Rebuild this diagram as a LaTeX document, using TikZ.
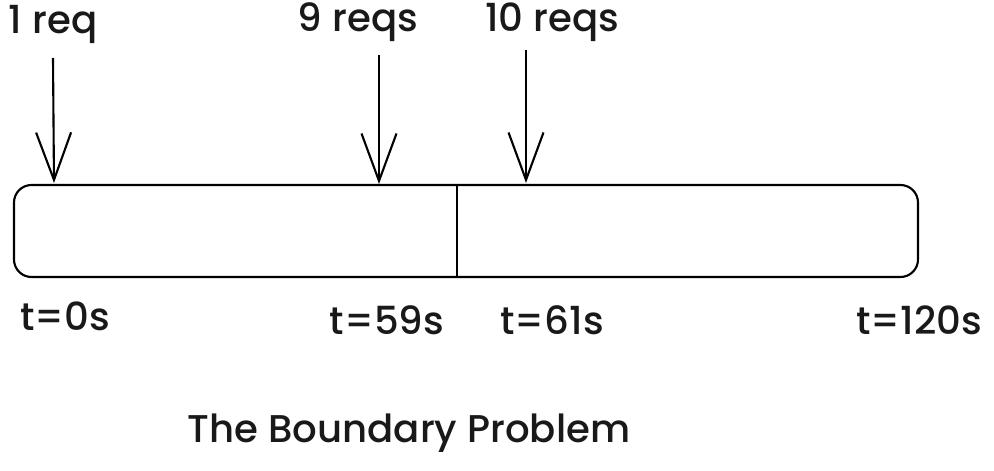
\documentclass[tikz,border=0pt]{standalone}
\usepackage{fontspec}
\setmainfont{Poppins}[UprightFont=* Medium]
\usetikzlibrary{arrows.meta}
\begin{document}
\begin{tikzpicture}[x=0.02cm,y=-0.02cm,
  lbl/.style={inner sep=0pt,font=\fontsize{22}{26}\selectfont,text=black!90},
  req/.style={line width=1.2pt,-{Straight Barb[length=0.95cm,width=0.7cm,line width=1.2pt]}},
  bar/.style={line width=1.2pt,rounded corners=0.35cm}]
\useasboundingbox (0,0) rectangle (994,470);
\draw[bar] (14,185) rectangle (918,277);
\coordinate (dtop) at (457,185);
\coordinate (dbot) at (457,278);
\draw[line width=1.2pt] (dtop) -- (dbot);
\node[lbl] (r1) at (53,24) {1 req};
\node[lbl] (r9) at (358,22) {9 reqs};
\node[lbl] (r10) at (552,22) {10 reqs};
\coordinate (a1s) at (53,58);
\coordinate (a1e) at (54,183);
\coordinate (a9s) at (379,55);
\coordinate (a9e) at (379,184);
\coordinate (a10s) at (526,50);
\coordinate (a10e) at (526,183);
\draw[req] (a1s) -- (a1e);
\draw[req] (a9s) -- (a9e);
\draw[req] (a10s) -- (a10e);
\node[lbl] (t0) at (65,316) {t=0s};
\node[lbl] (t59) at (387,320) {t=59s};
\node[lbl] (t61) at (552,320) {t=61s};
\node[lbl] (t120) at (919,320) {t=120s};
\node[lbl] (title) at (409,433) {The Boundary Problem};
\end{tikzpicture}
\end{document}
